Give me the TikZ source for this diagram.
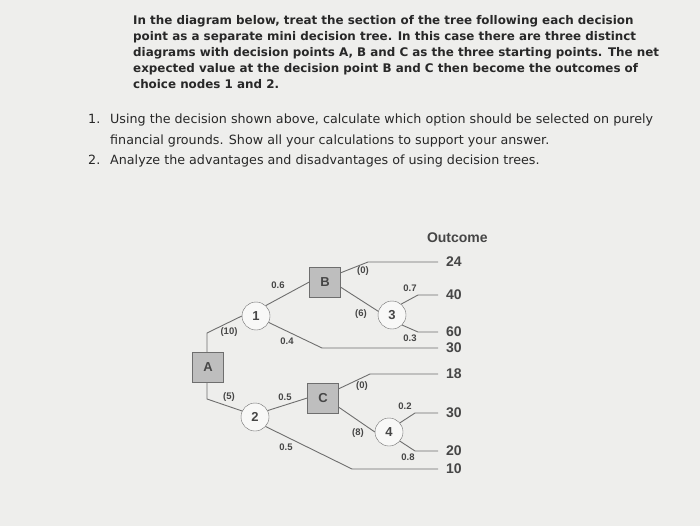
\documentclass[tikz,border=0pt]{standalone}
\usepackage{fontspec}
\setmainfont{DejaVu Sans}
\newfontfamily\arialfont{Liberation Sans}
\definecolor{paper}{RGB}{238,238,236}
\definecolor{ink}{RGB}{40,40,40}
\definecolor{treeline}{RGB}{110,110,110}
\definecolor{boxfill}{RGB}{190,190,190}
\definecolor{treetext}{RGB}{70,70,70}
\tikzset{
  decision/.style={draw=treeline, fill=boxfill, minimum width=31pt, minimum height=30pt,
    inner sep=0pt, font=\arialfont\bfseries\fontsize{13}{13}\selectfont, text=treetext},
  chance/.style={draw=treeline, fill=white!60!paper, circle, minimum size=28pt, inner sep=0pt,
    font=\arialfont\bfseries\fontsize{13}{13}\selectfont, text=treetext},
  prob/.style={font=\arialfont\bfseries\fontsize{9.5}{10}\selectfont, text=treetext, inner sep=0pt},
  payoff/.style={font=\arialfont\bfseries\fontsize{14}{14}\selectfont, text=treetext, anchor=west,
    inner sep=0pt, outer sep=8pt},
  branch/.style={draw=treeline, line width=0.9pt},
  question/.style={anchor=north west, inner sep=0pt, text=ink, align=left,
    font=\fontsize{12.7}{20.5}\selectfont}
}
\begin{document}
\begin{tikzpicture}[x=1pt,y=-1pt]
        \useasboundingbox[fill=paper] (0,0) rectangle (700,526);
        \node[anchor=north west, align=left, inner sep=0pt, text=ink,
              font=\bfseries\fontsize{11.9}{16}\selectfont] (intro) at (133,15)
        {In the diagram below, treat the section of the tree following each decision\\
         point as a separate mini decision tree. In this case there are three distinct\\
         diagrams with decision points A, B and C as the three starting points. The net\\
         expected value at the decision point B and C then become the outcomes of\\
         choice nodes 1 and 2.};
        \node[question] (q1n) at (88,114) {1.};
        \node[question] (q1) at (110,114)
        {Using the decision shown above, calculate which option should be selected on purely\\
         financial grounds. Show all your calculations to support your answer.};
        \node[question] (q2n) at (88,155) {2.};
        \node[question] (q2) at (110,155)
        {Analyze the advantages and disadvantages of using decision trees.};
        %%%%%%%%%%

        \node[decision] (A) at (208,367) {A};
        \node[decision] (B) at (325,282) {B};
        \node[decision] (C) at (323,398) {C};
        \node[chance] (N1) at (256,316) {1};
        \node[chance] (N2) at (255,417) {2};
        \node[chance] (N3) at (392,315) {3};
        \node[chance] (N4) at (389,432) {4};

        \node[payoff, outer sep=0pt] (outcome) at (427,238) {Outcome};
        \node[payoff] (o24) at (438,262) {24};
        \node[payoff] (o40) at (438,295) {40};
        \node[payoff] (o60) at (438,332) {60};
        \node[payoff] (o30a) at (438,348) {30};
        \node[payoff] (o18) at (438,374) {18};
        \node[payoff] (o30b) at (438,413) {30};
        \node[payoff] (o20) at (438,451) {20};
        \node[payoff] (o10) at (438,469) {10};

        \coordinate (a1) at (207,333);
        \coordinate (a2) at (207,399);
        \coordinate (b1) at (368,262);
        \coordinate (c1) at (370,374);
        \coordinate (n1) at (322,348);
        \coordinate (n2) at (352,469);
        \coordinate (n3u) at (418,295);
        \coordinate (n3d) at (418,332);
        \coordinate (n4u) at (415,413);
        \coordinate (n4d) at (415,451);

        \draw[branch] (A.north -| a1) -- (a1) -- (N1.west);
        \draw[branch] (A.south -| a2) -- (a2) -- (N2.155);
        \draw[branch] (N1.47) -- (B.west);
        \draw[branch] (N1.-27) -- (n1) -- (o30a.west);
        \draw[branch] (B.north east) ++(0,6) -- (b1) -- (o24.west);
        \draw[branch] (B.south east) ++(0,-10) -- (N3.165);
        \draw[branch] (N3.50) -- (n3u) -- (o40.west);
        \draw[branch] (N3.-45) -- (n3d) -- (o60.west);
        \draw[branch] (N2.27) -- (C.west);
        \draw[branch] (N2.-42) -- (n2) -- (o10.west);
        \draw[branch] (C.north east) ++(0,6) -- (c1) -- (o18.west);
        \draw[branch] (C.south east) ++(0,-6) -- (N4.west);
        \draw[branch] (N4.40) -- (n4u) -- (o30b.west);
        \draw[branch] (N4.-40) -- (n4d) -- (o20.west);

        \node[prob] (p10) at (229,332) {(10)};
        \node[prob] (p5) at (229,397) {(5)};
        \node[prob] (p06) at (278,285) {0.6};
        \node[prob] (p04) at (287,341) {0.4};
        \node[prob] (p05a) at (285,397) {0.5};
        \node[prob] (p05b) at (286,447) {0.5};
        \node[prob] (pB0) at (363,271) {(0)};
        \node[prob] (pB6) at (361,314) {(6)};
        \node[prob] (pC0) at (362,386) {(0)};
        \node[prob] (pC8) at (358,433) {(8)};
        \node[prob] (p07) at (410,288) {0.7};
        \node[prob] (p03) at (410,338) {0.3};
        \node[prob] (p02) at (405,406) {0.2};
        \node[prob] (p08) at (408,457) {0.8};
\end{tikzpicture}
\end{document}
